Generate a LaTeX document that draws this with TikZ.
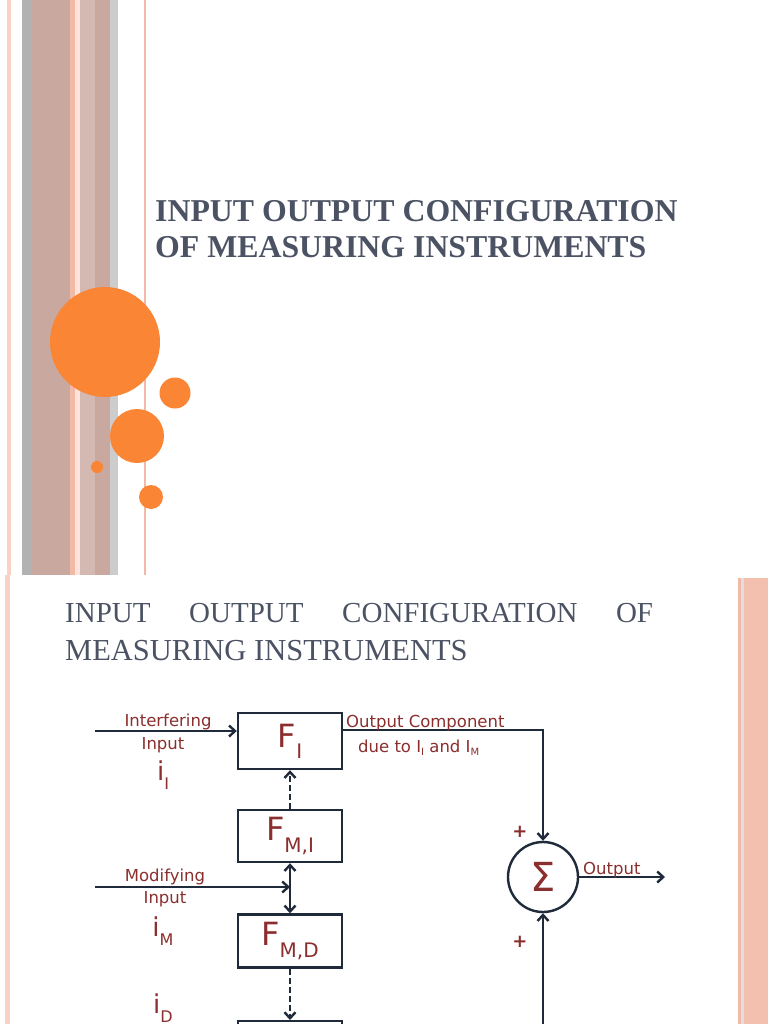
\documentclass[tikz,border=0pt]{standalone}
\usepackage{fontspec}
\setmainfont{Liberation Serif}
\newfontfamily\diag{DejaVu Sans}
\usetikzlibrary{arrows.meta}
\definecolor{tan}{HTML}{C9A89F}
\definecolor{salmon}{HTML}{F2B9A6}
\definecolor{pinkl}{HTML}{FAD2C4}
\definecolor{orng}{HTML}{FA8535}
\definecolor{ttl}{HTML}{4B5263}
\definecolor{lbl}{HTML}{8B2E2E}
\definecolor{ln}{HTML}{1F2A3A}
\tikzset{
 blk/.style={draw=ln,line width=2.4pt,minimum width=104pt,minimum height=56pt,inner sep=0pt,fill=white,font=\diag\fontsize{32}{32}\selectfont,text=lbl},
 lab/.style={font=\diag\fontsize{16.5}{17}\selectfont,text=lbl,inner sep=0pt},
 wire/.style={draw=ln,line width=2.4pt,-{Straight Barb[length=6pt,width=11pt]}},
 dwire/.style={wire,dashed,dash pattern=on 6pt off 3pt},
 bub/.style={fill=orng,draw=none}
}
\newcommand{\sbs}[1]{\raisebox{-0.35em}{\fontsize{20}{20}\selectfont #1}}
\begin{document}
\begin{tikzpicture}[x=1pt,y=-1pt]
\useasboundingbox (0,0) rectangle (768,1024);
\fill[white] (0,0) rectangle (768,1024);
% top slide stripes
\fill[pinkl] (7,0) rectangle (11,575);
\fill[gray!60] (22,0) rectangle (32,575);
\fill[tan] (32,0) rectangle (70,575);
\fill[salmon] (70,0) rectangle (75,575);
\fill[pinkl!60] (75,0) rectangle (80,575);
\fill[tan!80] (80,0) rectangle (95,575);
\fill[tan] (95,0) rectangle (110,575);
\fill[gray!40] (110,0) rectangle (118,575);
\fill[salmon] (144,0) rectangle (146,575);
% circles
\fill[bub] (105,342) circle (55);
\fill[bub] (175,393) circle (15.5);
\fill[bub] (137,436) circle (27);
\fill[bub] (97,467) circle (6);
\fill[bub] (151,497) circle (12);
% top title
\node[anchor=base west,inner sep=0pt,text=ttl,font=\bfseries\fontsize{31.8}{31.8}\selectfont] (t1) at (155,222) {INPUT OUTPUT CONFIGURATION};
\node[anchor=base west,inner sep=0pt,text=ttl,font=\bfseries\fontsize{31.8}{31.8}\selectfont] (t2) at (155,258) {OF MEASURING INSTRUMENTS};
% bottom slide
\fill[pinkl] (5,575) rectangle (10,1024);
\fill[salmon] (738,578) rectangle (741,1024);
\fill[gray!25] (741,578) rectangle (744,1024);
\fill[salmon!90] (744,578) rectangle (768,1024);
\node[anchor=base west,inner sep=0pt,text=ttl,font=\fontsize{29}{29}\selectfont,text width=588pt,align=justify] (t3) at (65,622) {INPUT\hfill OUTPUT\hfill CONFIGURATION\hfill OF};
\node[anchor=base west,inner sep=0pt,text=ttl,font=\fontsize{30.5}{30.5}\selectfont] (t4) at (65,660) {MEASURING INSTRUMENTS};
% diagram
\node[blk] (fi) at (290,741) {F\sbs{I}};
\node[blk,minimum height=52pt] (fmi) at (290,836) {F\sbs{M,I}};
\node[blk,minimum height=53pt] (fmd) at (290,941) {F\sbs{M,D}};
\node[blk,anchor=north,minimum height=30pt] (fd) at (290,1020) {};
\node[draw=ln,line width=2.4pt,circle,minimum size=70pt,inner sep=0pt,font=\diag\fontsize{40}{40}\selectfont,text=lbl] (sum) at (543,877) {Σ};
\coordinate (ii) at (95,731);
\coordinate (im) at (95,887);
\coordinate (jn) at (290,887);
\coordinate (cr) at (543,730);
\coordinate (bot) at (543,1024);
\coordinate (out) at (665,877);
\draw[wire] (ii) -- (ii -| fi.west);
\draw[wire] (fi.east |- cr) -- (cr) -- (sum.north);
\draw[wire] (bot) -- (sum.south);
\draw[wire] (sum.east) -- (out);
\draw[dwire] (fmi.north) -- (fi.south);
\draw[wire] (im) -- (jn);
\draw[wire] (jn) -- (fmi.south);
\draw[wire] (jn) -- (fmd.north);
\draw[dwire] (fmd.south) -- (fd.north);
\node[lab] (l1) at (168,722) {Interfering};
\node[lab] (l2) at (163,745) {Input};
\node[lab,font=\diag\fontsize{26}{26}\selectfont] (l3) at (163,775) {i\sbs{\fontsize{16}{16}\selectfont I}};
\node[lab] (l4) at (165,877) {Modifying};
\node[lab] (l5) at (165,899) {Input};
\node[lab,font=\diag\fontsize{26}{26}\selectfont] (l6) at (163,931) {i\sbs{\fontsize{16}{16}\selectfont M}};
\node[lab,font=\diag\fontsize{26}{26}\selectfont] (l7) at (163,1008) {i\sbs{\fontsize{16}{16}\selectfont D}};
\node[lab,anchor=west] (l8) at (346,723) {Output Component};
\node[lab,anchor=west] (l9) at (358,748) {due to I\raisebox{-0.2em}{\fontsize{10}{10}\selectfont I} and I\raisebox{-0.2em}{\fontsize{10}{10}\selectfont M}};
\node[lab,font=\diag\bfseries\fontsize{18}{18}\selectfont] (p1) at (520,832) {+};
\node[lab,font=\diag\bfseries\fontsize{18}{18}\selectfont] (p2) at (520,942) {+};
\node[lab,anchor=west] (o) at (583,870) {Output};
\end{tikzpicture}
\end{document}
